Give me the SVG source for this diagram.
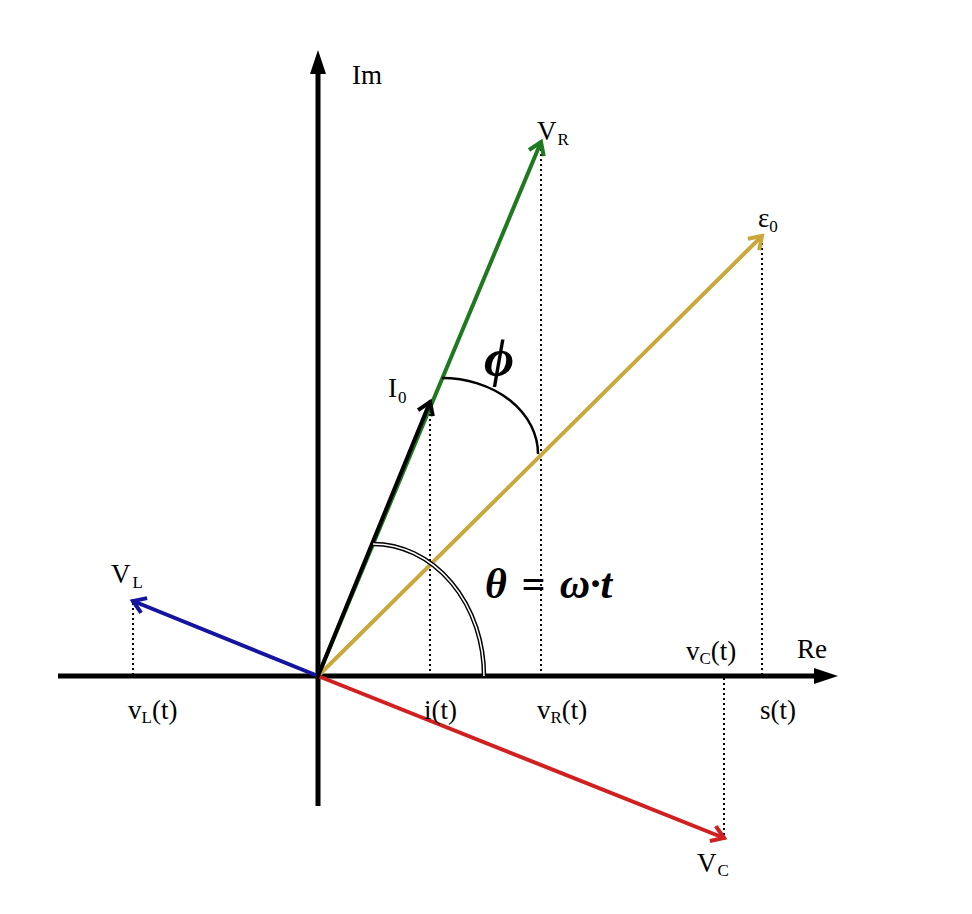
<svg xmlns="http://www.w3.org/2000/svg" width="972" height="914" viewBox="0 0 972 914">
<style>
.t{font-family:"Liberation Serif","DejaVu Serif",serif;font-size:27px;fill:#000}
.s{font-size:17px}
.big{font-family:"Liberation Serif","DejaVu Serif",serif;font-weight:bold;font-style:italic;fill:#000}
.dot{stroke:#000;stroke-width:2;stroke-dasharray:2,3;fill:none}
.vec{stroke-width:4;fill:none;stroke-linecap:round}
</style>
<defs>
<marker id="hg" markerUnits="userSpaceOnUse" viewBox="-14 -10 18 20" refX="0" refY="0" markerWidth="18" markerHeight="20" orient="auto"><path d="M-12,-8 L0,0 L-12,8" fill="none" stroke="#1f7a1f" stroke-width="4"/></marker>
<marker id="hy" markerUnits="userSpaceOnUse" viewBox="-14 -10 18 20" refX="0" refY="0" markerWidth="18" markerHeight="20" orient="auto"><path d="M-12,-8 L0,0 L-12,8" fill="none" stroke="#c9a83c" stroke-width="4"/></marker>
<marker id="hb" markerUnits="userSpaceOnUse" viewBox="-14 -10 18 20" refX="0" refY="0" markerWidth="18" markerHeight="20" orient="auto"><path d="M-12,-8 L0,0 L-12,8" fill="none" stroke="#1414a0" stroke-width="4"/></marker>
<marker id="hr" markerUnits="userSpaceOnUse" viewBox="-14 -10 18 20" refX="0" refY="0" markerWidth="18" markerHeight="20" orient="auto"><path d="M-12,-8 L0,0 L-12,8" fill="none" stroke="#d02020" stroke-width="4"/></marker>
<marker id="hk" markerUnits="userSpaceOnUse" viewBox="-14 -10 18 20" refX="0" refY="0" markerWidth="18" markerHeight="20" orient="auto"><path d="M-12,-8 L0,0 L-12,8" fill="none" stroke="#000" stroke-width="4"/></marker>
</defs>
<rect width="972" height="914" fill="#fff"/>
<g id="axes">
<line x1="318" y1="806" x2="318" y2="70" stroke="#000" stroke-width="5"/>
<polygon points="318,50 310,74 326,74" fill="#000"/>
<line x1="58" y1="676" x2="818" y2="676" stroke="#000" stroke-width="5"/>
<polygon points="838,676 814,668 814,684" fill="#000"/>
</g>
<g id="connectors">
<line class="dot" x1="430" y1="404" x2="430" y2="674"/>
<line class="dot" x1="541" y1="144" x2="541" y2="674"/>
<line class="dot" x1="762" y1="238" x2="762" y2="674"/>
<line class="dot" x1="133" y1="603" x2="133" y2="674"/>
<line class="dot" x1="724" y1="678" x2="724" y2="836"/>
<line class="vec" x1="318" y1="676" x2="541" y2="142" stroke="#1f7a1f" marker-end="url(#hg)"/>
<line class="vec" x1="318" y1="676" x2="762" y2="236" stroke="#c9a83c" marker-end="url(#hy)"/>
<line class="vec" x1="318" y1="676" x2="133" y2="601" stroke="#1414a0" marker-end="url(#hb)"/>
<line class="vec" x1="318" y1="676" x2="724" y2="838" stroke="#d02020" marker-end="url(#hr)"/>
<line class="vec" x1="318" y1="676" x2="430" y2="402" stroke="#000" marker-end="url(#hk)"/>
<path d="M442,378 A96,76 0 0 1 538,454" fill="none" stroke="#000" stroke-width="2.5"/>
<path d="M373,544 A111,132 0 0 1 484,676" fill="none" stroke="#000" stroke-width="4.5"/>
<path d="M373,544 A111,132 0 0 1 484,676" fill="none" stroke="#fff" stroke-width="1.5"/>
</g>
<g id="labels">
<text class="t" x="352" y="84" font-size="29">Im</text>
<text class="t" x="797" y="658" font-size="28">Re</text>
<text class="t" x="537" y="140" font-size="29">V<tspan class="s" dx="1" dy="5">R</tspan></text>
<text class="t" x="758" y="227" font-family="DejaVu Sans,sans-serif" font-size="26">ε<tspan class="s" dy="5">0</tspan></text>
<text class="t" x="388" y="397" font-size="28">I<tspan class="s" dx="1" dy="6">0</tspan></text>
<text class="t" x="111" y="583" font-size="29">V<tspan class="s" dx="2" dy="5">L</tspan></text>
<text class="t" x="128" y="719">v<tspan class="s" dy="4">L</tspan><tspan dy="-4">(t)</tspan></text>
<text class="t" x="424" y="719">i(t)</text>
<text class="t" x="537" y="719">v<tspan class="s" dy="4">R</tspan><tspan dy="-4">(t)</tspan></text>
<text class="t" x="686" y="660">v<tspan class="s" dy="4">C</tspan><tspan dy="-4">(t)</tspan></text>
<text class="t" x="760" y="719">s(t)</text>
<text class="t" x="697" y="872" font-size="29">V<tspan class="s" dx="1" dy="4">C</tspan></text>
<text class="big" x="484" y="376" font-size="52">ϕ</text>
<text class="big" x="485" y="598" font-size="42" xml:space="preserve">θ <tspan dx="4">=</tspan> <tspan dx="4">ω·t</tspan></text>
</g>
</svg>
